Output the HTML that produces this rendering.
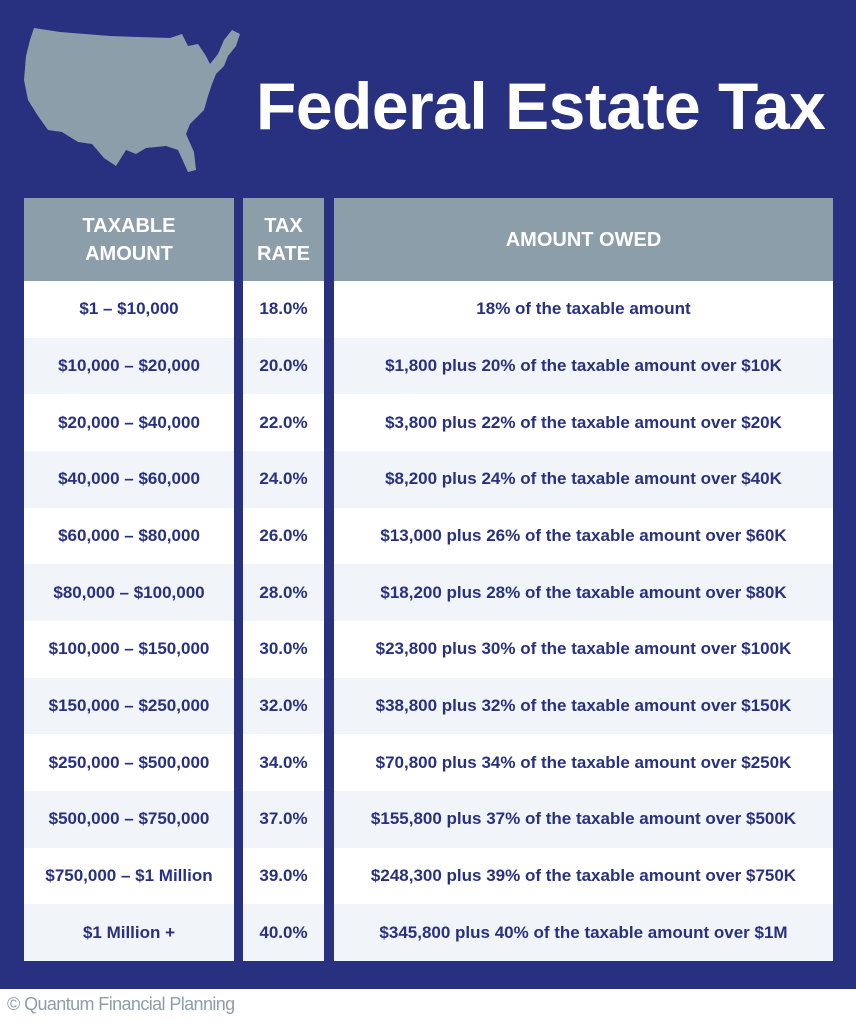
<!DOCTYPE html>
<html><head><meta charset="utf-8"><style>
body{margin:0;width:856px;height:1024px;background:#fff;font-family:"Liberation Sans",sans-serif;position:relative;overflow:hidden}
#bg{position:absolute;left:0;top:0;width:856px;height:989px;background:#283180}
h1{position:absolute;left:256px;top:66px;margin:0;font-size:66px;font-weight:bold;color:#fff;letter-spacing:-0.5px;line-height:80px}
.col{position:absolute;top:198px}
.hd{height:83px;background:#8c9ea9;color:#fff;font-weight:bold;font-size:20px;display:flex;align-items:center;justify-content:center;text-align:center;line-height:28px}
.r{height:56.67px;display:flex;align-items:center;justify-content:center;color:#283180;font-weight:bold;font-size:17px;white-space:nowrap}
.r:nth-child(odd){background:#fff}
.r:nth-child(even){background:#f1f4f8}
#foot{position:absolute;left:7px;top:994px;color:#8c9ea9;font-size:18px;letter-spacing:-0.6px}
</style></head><body>
<div id="bg"></div>
<svg style="position:absolute;left:20px;top:20px" width="222" height="160">
<path fill="#8c9ea9" d="M14 8 L40 12 L90 16 L150 18 L162 14 L168 26 L178 24 L186 36 L190 44 L198 34 L204 20 L212 10 L220 14 L216 26 L208 36 L204 46 L196 54 L192 64 L188 76 L184 90 L170 104 L166 114 L174 132 L176 150 L168 152 L158 130 L146 126 L126 128 L116 134 L106 130 L96 146 L84 138 L72 124 L58 122 L42 112 L28 110 L18 96 L8 80 L4 60 L6 36 L10 20 Z"/>
</svg>
<h1>Federal Estate Tax</h1>
<div class="col" style="left:24px;width:210px">
<div class="hd">TAXABLE<br>AMOUNT</div>
<div id="c1"></div></div>
<div class="col" style="left:243px;width:81px">
<div class="hd">TAX<br>RATE</div>
<div id="c2"></div></div>
<div class="col" style="left:334px;width:499px">
<div class="hd">AMOUNT OWED</div>
<div id="c3"></div></div>
<div id="foot">© Quantum Financial Planning</div>
<script>
const brackets=["$1 – $10,000","$10,000 – $20,000","$20,000 – $40,000","$40,000 – $60,000","$60,000 – $80,000","$80,000 – $100,000","$100,000 – $150,000","$150,000 – $250,000","$250,000 – $500,000","$500,000 – $750,000","$750,000 – $1 Million","$1 Million +"];
const rates=["18.0%","20.0%","22.0%","24.0%","26.0%","28.0%","30.0%","32.0%","34.0%","37.0%","39.0%","40.0%"];
const owed=["18% of the taxable amount","$1,800 plus 20% of the taxable amount over $10K","$3,800 plus 22% of the taxable amount over $20K","$8,200 plus 24% of the taxable amount over $40K","$13,000 plus 26% of the taxable amount over $60K","$18,200 plus 28% of the taxable amount over $80K","$23,800 plus 30% of the taxable amount over $100K","$38,800 plus 32% of the taxable amount over $150K","$70,800 plus 34% of the taxable amount over $250K","$155,800 plus 37% of the taxable amount over $500K","$248,300 plus 39% of the taxable amount over $750K","$345,800 plus 40% of the taxable amount over $1M"];
function fill(id,arr,name){const c=document.getElementById(id);arr.forEach(t=>{const d=document.createElement('div');d.className='r';d.textContent=t;


c.appendChild(d);});}
fill('c1',brackets,'taxable-amount-cell');fill('c2',rates,'tax-rate-cell');fill('c3',owed,'amount-owed-cell');
</script>
</body></html>
